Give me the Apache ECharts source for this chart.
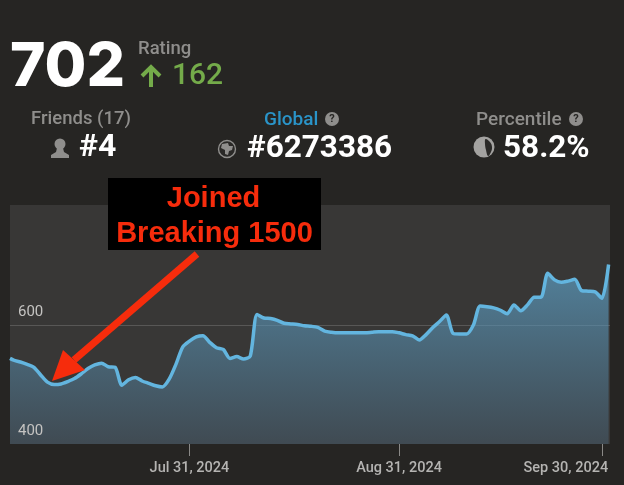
<!DOCTYPE html>
<html>
<head>
<meta charset="utf-8">
<title>Rating</title>
<style>
	html, body { margin: 0; padding: 0; background: #262523; }
	#chart { width: 624px; height: 485px; }
</style>
<script src="https://cdn.jsdelivr.net/npm/echarts@6/dist/echarts.min.js"></script>
</head>
<body>
<div id="chart"></div>
<script>
// one reading per day from Jul 4
var ratings = [
	544, 541, 538, 534, 529, 516, 504, 500, 501, 505,
	510, 518, 527, 533, 536, 530, 529, 499, 508, 512,
	506, 502, 498, 496, 509, 534, 563, 573, 580, 582,
	571, 562, 559, 544, 547, 543, 548, 618, 612, 611,
	608, 603, 602, 601, 599, 598, 596, 590, 588, 587,
	587, 587, 587, 587, 588, 589, 589, 589, 587, 584,
	582, 575, 584, 596, 606, 617, 586, 585, 585, 600,
	632, 631, 629, 625, 619, 634, 624, 634, 647, 647,
	687, 676, 672, 674, 677, 658, 657, 656, 645, 702
];
var tickDates = ['2024-07-31', '2024-08-31', '2024-09-30'];
var tickLabels = ['Jul 31, 2024', 'Aug 31, 2024', 'Sep 30, 2024'];
var yTicks = [400, 600];

var xMin = echarts.time.parse('2024-07-04T11:00:00').getTime();
var xMax = echarts.time.parse('2024-10-01T05:00:00').getTime();

var seriesData = ratings.map(function (v, i) {
	// the first day starts a little before the plot's left edge
	return [Math.max(new Date(2024, 6, 4 + i).getTime(), xMin), v];
});
var tickValues = tickDates.map(function (d) {
	return echarts.time.parse(d).getTime();
});

var UI = 'Roboto, "Noto Sans", sans-serif';
var ARIAL = '"Liberation Sans", Arial, sans-serif';
var GREY = '#8f8e8c';
var RED = '#f62c0c';

function label(text, x, y, font, fill, align, z) {
	return {
		type: 'text', z: z || 20,
		style: { text: text, x: x, y: y, font: font, fill: fill, textAlign: align || 'left', textVerticalAlign: 'middle' }
	};
}
function helpIcon(x, y) {
	return [
		{ type: 'circle', z: 20, shape: { cx: x, cy: y, r: 7 }, style: { fill: GREY } },
		label('?', x, y + 0.5, '700 11px ' + UI, '#262523', 'center', 21)
	];
}

var graphics = [
	label('702', 10, 68, '800 60.5px Inter, ' + UI, '#ffffff'),
	label('Rating', 138, 49, '500 18.5px ' + UI, GREY),
	label('162', 172, 76, '500 30px ' + UI, '#74ab4a'),
	// up arrow
	{ type: 'polyline', z: 20, shape: { points: [[151, 87], [151, 68]] }, style: { stroke: '#74ab4a', lineWidth: 4, fill: null } },
	{ type: 'polyline', z: 20, shape: { points: [[142, 76], [151, 67], [160, 76]] }, style: { stroke: '#74ab4a', lineWidth: 4, fill: null } },

	label('Friends (17)', 81, 119, '500 18.5px ' + UI, GREY, 'center'),
	label('#4', 79, 148, '700 32px ' + UI, '#ffffff'),
	// person icon
	{ type: 'circle', z: 20, shape: { cx: 60, cy: 144, r: 5.5 }, style: { fill: GREY } },
	{ type: 'polygon', z: 20, shape: { points: [[57, 148], [63, 148], [64, 152], [69, 155], [69, 158], [51, 158], [51, 155], [56, 152]] }, style: { fill: GREY } },

	label('Global', 264, 120, '500 19px ' + UI, '#2a94c8'),
	label('#6273386', 247, 149, '700 31.5px ' + UI, '#ffffff'),
	// globe icon
	{ type: 'circle', z: 20, shape: { cx: 227, cy: 149, r: 8.5 }, style: { fill: '#2a2927', stroke: GREY, lineWidth: 1.4 } },
	{ type: 'polygon', z: 20, shape: { points: [[222, 144], [228, 143], [229, 146], [233, 146], [232, 150], [229, 151], [228, 155], [225, 154], [225, 150], [221, 148]] }, style: { fill: GREY } },

	label('Percentile', 476, 120, '500 19px ' + UI, GREY),
	label('58.2%', 503, 149, '700 31.5px ' + UI, '#ffffff'),
	// half disc icon
	{ type: 'circle', z: 20, shape: { cx: 484, cy: 147, r: 10.5 }, style: { fill: '#a3a2a0' } },
	{ type: 'polygon', z: 21, shape: { smooth: 0.4, points: [[485.5, 139], [490, 142], [492, 147], [491, 152], [488, 156], [486, 150], [485, 144]] }, style: { fill: '#2a2927' } },

	// annotation
	{ type: 'rect', z: 30, shape: { x: 108, y: 178, width: 213, height: 72 }, style: { fill: '#000000' } },
	label('Joined', 213.5, 199, '700 29px ' + ARIAL, RED, 'center', 31),
	label('Breaking 1500', 214.5, 234, '700 29px ' + ARIAL, RED, 'center', 31),
	{ type: 'line', z: 30, shape: { x1: 197, y1: 254, x2: 74, y2: 360 }, style: { stroke: RED, lineWidth: 7 } },
	{ type: 'polygon', z: 30, shape: { points: [[52, 381], [63, 350], [85, 370]] }, style: { fill: RED } }
].concat(helpIcon(332, 119), helpIcon(576, 119));

var myChart = echarts.init(document.getElementById('chart'));
var option = {
	backgroundColor: '#262523',
	animation: false,
	grid: {
		left: 10, right: 14, top: 205, bottom: 41,
		show: true, backgroundColor: '#383736', borderWidth: 0
	},
	xAxis: {
		type: 'value',
		min: xMin,
		max: xMax,
		axisLine: { show: false },
		splitLine: { show: false },
		axisTick: { show: true, length: 12, customValues: tickValues, lineStyle: { color: '#8a8987', width: 1 } },
		axisLabel: {
			customValues: tickValues,
			margin: 17,
			color: '#b5b4b2',
			fontFamily: UI,
			fontSize: 14.5,
			fontWeight: 500,
			formatter: function (value) {
				var text = tickLabels[tickValues.indexOf(value)];
				// last label sits left of its tick
				return value === tickValues[2] ? '{last|' + text + '}' : text;
			},
			rich: {
				last: { color: '#b5b4b2', fontFamily: UI, fontSize: 14.5, fontWeight: 500, padding: [0, 72, 0, 0] }
			}
		}
	},
	yAxis: {
		type: 'value',
		min: 400,
		max: 802,
		z: 3,
		axisLine: { show: false },
		axisTick: { show: false, customValues: yTicks },
		splitLine: { show: true, showMinLine: false, lineStyle: { color: 'rgba(255,255,255,.16)', width: 1 } },
		axisLabel: {
			customValues: yTicks,
			inside: true,
			margin: 8,
			color: '#c4c3c1',
			fontFamily: UI,
			fontSize: 15,
			verticalAlign: 'bottom',
			padding: [0, 0, 5, 0]
		}
	},
	series: [{
		type: 'line',
		data: seriesData,
		smooth: 0.25,
		showSymbol: false,
		lineStyle: { color: '#63b5df', width: 3.5 },
		areaStyle: {
			color: new echarts.graphic.LinearGradient(0, 0, 0, 1, [
				{ offset: 0, color: 'rgba(100,180,225,.85)' },
				{ offset: 1, color: 'rgba(70,90,105,.8)' }
			])
		}
	}],
	graphic: graphics
};
myChart.setOption(option);
</script>
</body>
</html>
